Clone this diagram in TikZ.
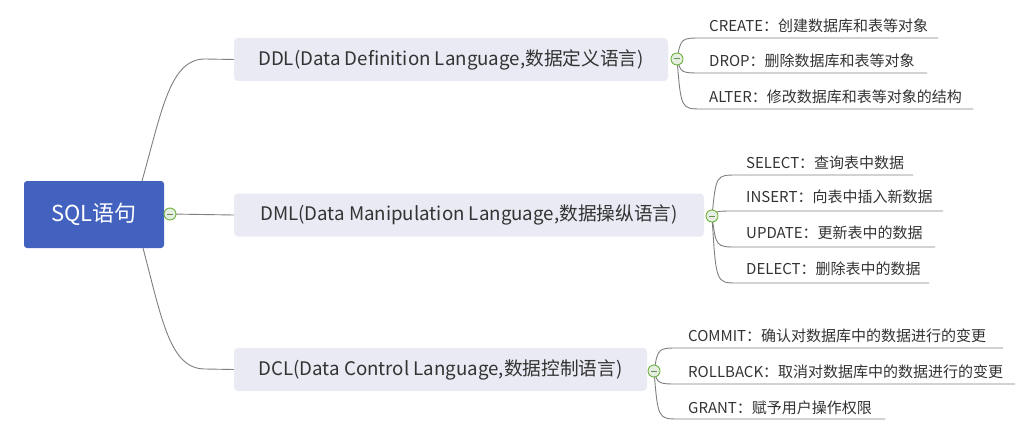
\documentclass[tikz,border=0pt]{standalone}
\usepackage{fontspec}
\setmainfont{Noto Sans CJK SC}
\definecolor{rootblue}{HTML}{4361BE}
\definecolor{branchgray}{HTML}{E9EAF3}
\definecolor{textdark}{HTML}{333333}
\definecolor{linegray}{HTML}{7F7F7F}
\definecolor{togglegreen}{HTML}{6DB33F}
\definecolor{togglefill}{HTML}{E6EDE1}
\definecolor{minusgray}{HTML}{6A8F55}
\begin{document}
\begin{tikzpicture}[x=1pt,y=-1pt,
 root/.style={fill=rootblue, rounded corners=3pt, minimum width=140pt, minimum height=67pt, text=white, font=\fontsize{22}{22}\selectfont, inner sep=0},
 branch/.style={fill=branchgray, rounded corners=4pt, minimum height=43pt, text=textdark, font=\fontsize{18.7}{18.7}\selectfont, inner sep=0},
 leaf/.style={anchor=west, text=textdark, font=\fontsize{15}{15}\selectfont, inner sep=0},
 conn/.style={draw=linegray, line width=0.9pt},
 toggle/.style={circle, draw=togglegreen, line width=0.9pt, fill=togglefill, minimum size=12pt, inner sep=0,
   path picture={\draw[minusgray, line width=1pt] ([xshift=-3.2pt]path picture bounding box.center) -- ([xshift=3.2pt]path picture bounding box.center);}}
]
\useasboundingbox (0,0) rectangle (1016,425);

% main nodes
\node[root] (root) at (94,214.5) {SQL语句};
\node[branch, minimum width=434pt] (ddl) at (451,59.5) {DDL(Data Definition Language,数据定义语言)};
\node[branch, minimum width=470pt] (dml) at (469,215) {DML(Data Manipulation Language,数据操纵语言)};
\node[branch, minimum width=413pt] (dcl) at (440.5,369.5) {DCL(Data Control Language,数据控制语言)};

% toggle positions
\coordinate (t0) at (170,214);
\coordinate (t1) at (677,59);
\coordinate (t2) at (712,216);
\coordinate (t3) at (654,371);

% root connectors
\coordinate (rt) at (142,181);
\coordinate (rb) at (143,248);
\draw[conn] (rt) .. controls (162,110) and (170,59) .. (205,59) -- (ddl.west);
\draw[conn] (t0) -- (dml.west);
\draw[conn] (rb) .. controls (162,320) and (170,369) .. (205,369) -- (dcl.west);

% DDL leaves
\node[leaf] (l1) at (709,26) {CREATE：创建数据库和表等对象};
\node[leaf] (l2) at (709,61) {DROP：删除数据库和表等对象};
\node[leaf] (l3) at (709,97) {ALTER：修改数据库和表等对象的结构};
\coordinate (u1s) at (702,38);  \coordinate (u1e) at (938,38);
\coordinate (u2s) at (702,73);  \coordinate (u2e) at (927,73);
\coordinate (u3s) at (702,109); \coordinate (u3e) at (973,109);
\foreach \i in {1,2,3}{
  \draw[conn] (t1) .. controls ([xshift=4pt]t1 |- u\i s) .. (u\i s) -- (u\i e);
}

% DML leaves
\node[leaf] (l4) at (746,163) {SELECT：查询表中数据};
\node[leaf] (l5) at (746,197) {INSERT：向表中插入新数据};
\node[leaf] (l6) at (746,233) {UPDATE：更新表中的数据};
\node[leaf] (l7) at (746,269) {DELECT：删除表中的数据};
\coordinate (u4s) at (737,175); \coordinate (u4e) at (913,175);
\coordinate (u5s) at (737,211); \coordinate (u5e) at (943,211);
\coordinate (u6s) at (737,247); \coordinate (u6e) at (935,247);
\coordinate (u7s) at (737,283); \coordinate (u7e) at (929,283);
\foreach \i in {4,5,6,7}{
  \draw[conn] (t2) .. controls ([xshift=4pt]t2 |- u\i s) .. (u\i s) -- (u\i e);
}

% DCL leaves
\node[leaf] (l8) at (688,336) {COMMIT：确认对数据库中的数据进行的变更};
\node[leaf] (l9) at (688,372) {ROLLBACK：取消对数据库中的数据进行的变更};
\node[leaf] (l10) at (688,408) {GRANT：赋予用户操作权限};
\coordinate (u8s) at (679,348);  \coordinate (u8e) at (1003,348);
\coordinate (u9s) at (679,384);  \coordinate (u9e) at (1015,384);
\coordinate (u10s) at (679,419); \coordinate (u10e) at (885,419);
\foreach \i in {8,9,10}{
  \draw[conn] (t3) .. controls ([xshift=4pt]t3 |- u\i s) .. (u\i s) -- (u\i e);
}

% toggles on top
\node[toggle] (c0) at (t0) {};
\node[toggle] (c1) at (t1) {};
\node[toggle] (c2) at (t2) {};
\node[toggle] (c3) at (t3) {};
\end{tikzpicture}
\end{document}
